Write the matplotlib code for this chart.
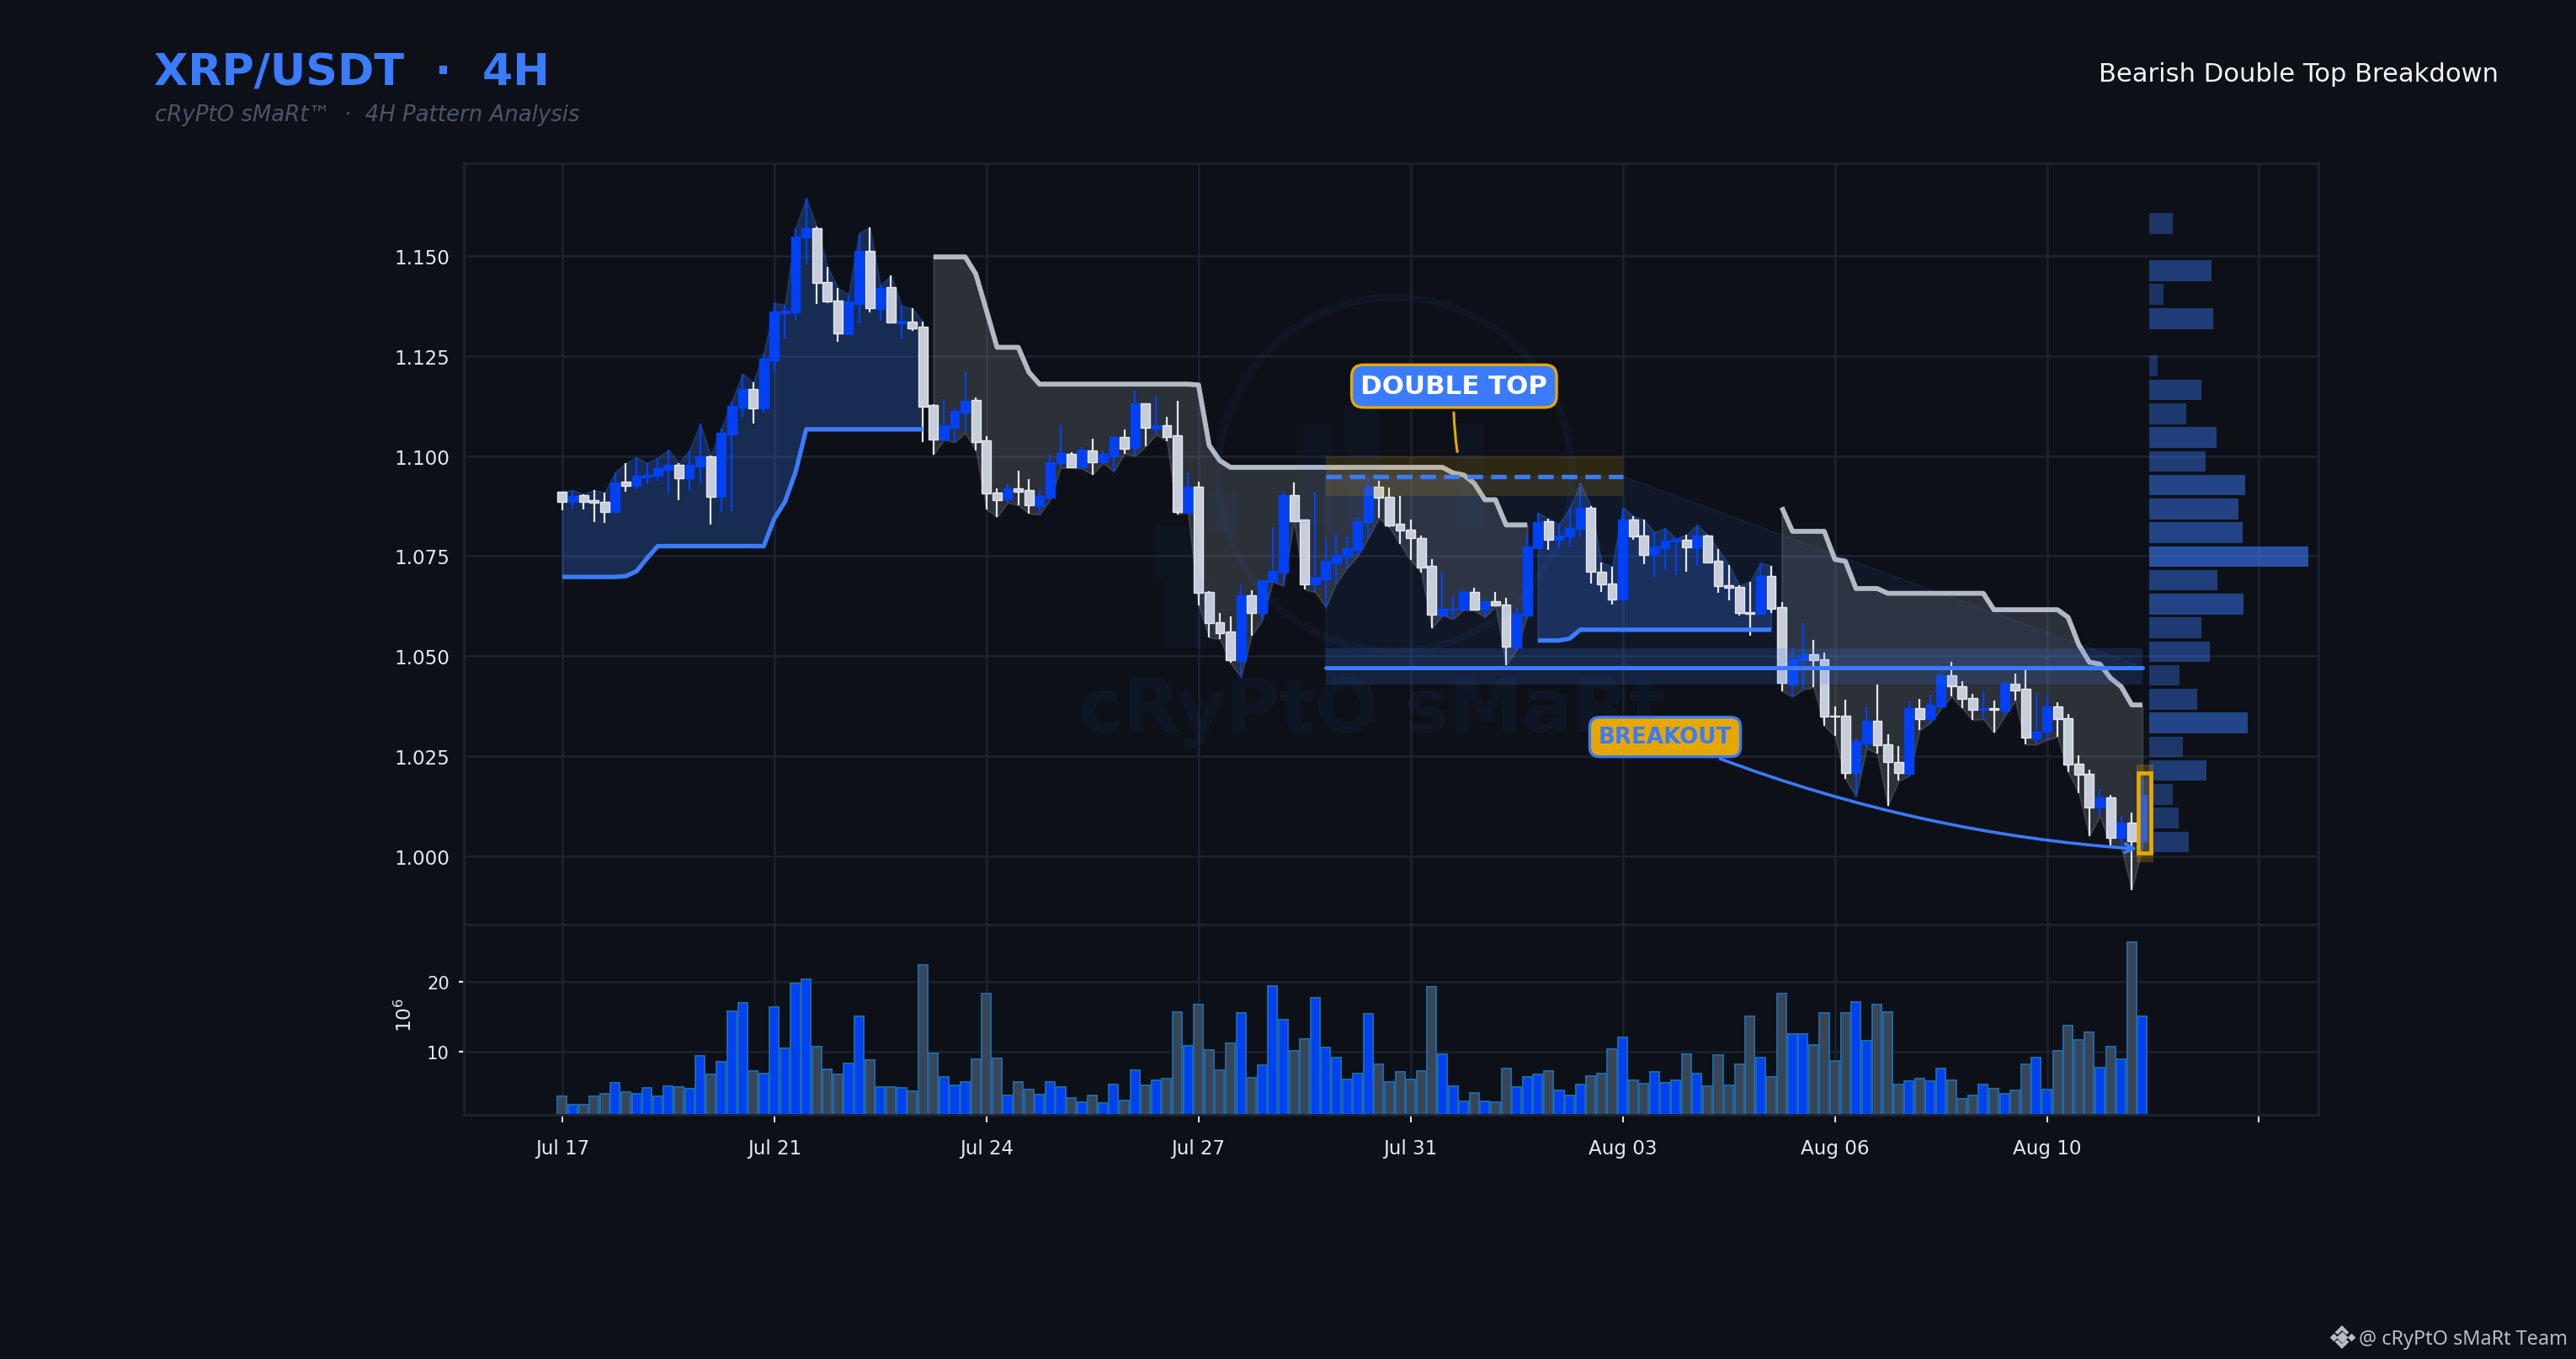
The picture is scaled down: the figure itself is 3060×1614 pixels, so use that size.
import matplotlib
matplotlib.use('Agg')
import matplotlib.pyplot as plt
import numpy as np
from matplotlib.lines import Line2D
from matplotlib.patches import Circle, Polygon, Rectangle

# candles (4H bars)
opens = [1.0912, 1.0885, 1.0903, 1.0890, 1.0886, 1.0860, 1.0936, 1.0925, 1.0947, 1.0950,
         1.0966, 1.0978, 1.0945, 1.0974, 1.1000, 1.0898, 1.1054, 1.1122, 1.1167, 1.1119,
         1.1240, 1.1358, 1.1359, 1.1546, 1.1569, 1.1436, 1.1388, 1.1304, 1.1381, 1.1513,
         1.1367, 1.1422, 1.1332, 1.1336, 1.1324, 1.1127, 1.1041, 1.1072, 1.1109, 1.1140,
         1.1039, 1.0909, 1.0891, 1.0920, 1.0915, 1.0875, 1.0896, 1.0982, 1.1006, 1.0971,
         1.1015, 1.0984, 1.0999, 1.1048, 1.1020, 1.1131, 1.1068, 1.1078, 1.1052, 1.0859,
         1.0924, 1.0661, 1.0585, 1.0561, 1.0488, 1.0652, 1.0608, 1.0686, 1.0709, 1.0903,
         1.0841, 1.0679, 1.0693, 1.0733, 1.0749, 1.0766, 1.0836, 1.0924, 1.0898, 1.0832,
         1.0816, 1.0796, 1.0726, 1.0602, 1.0616, 1.0616, 1.0661, 1.0617, 1.0638, 1.0629,
         1.0521, 1.0602, 1.0770, 1.0837, 1.0791, 1.0799, 1.0818, 1.0870, 1.0712, 1.0682,
         1.0642, 1.0841, 1.0801, 1.0754, 1.0770, 1.0786, 1.0791, 1.0770, 1.0802, 1.0739,
         1.0677, 1.0673, 1.0609, 1.0605, 1.0700, 1.0622, 1.0429, 1.0489, 1.0504, 1.0492,
         1.0352, 1.0350, 1.0207, 1.0282, 1.0338, 1.0279, 1.0235, 1.0205, 1.0371, 1.0343,
         1.0375, 1.0452, 1.0424, 1.0395, 1.0366, 1.0370, 1.0364, 1.0431, 1.0419, 1.0294,
         1.0310, 1.0375, 1.0345, 1.0231, 1.0205, 1.0121, 1.0147, 1.0046, 1.0083, 1.0037]
highs = [1.0912, 1.0915, 1.0905, 1.0915, 1.0909, 1.0960, 1.0983, 1.0997, 1.0983, 1.0995,
         1.1016, 1.0983, 1.1015, 1.1081, 1.1002, 1.1069, 1.1137, 1.1206, 1.1185, 1.1256,
         1.1383, 1.1378, 1.1569, 1.1645, 1.1574, 1.1474, 1.1420, 1.1404, 1.1558, 1.1572,
         1.1427, 1.1452, 1.1376, 1.1369, 1.1336, 1.1129, 1.1143, 1.1122, 1.1213, 1.1146,
         1.1050, 1.0919, 1.0933, 1.0963, 1.0943, 1.0915, 1.1004, 1.1078, 1.1010, 1.1022,
         1.1044, 1.1015, 1.1050, 1.1067, 1.1166, 1.1132, 1.1152, 1.1099, 1.1138, 1.0957,
         1.0936, 1.0662, 1.0608, 1.0599, 1.0678, 1.0664, 1.0690, 1.0822, 1.0910, 1.0935,
         1.0841, 1.0910, 1.0794, 1.0808, 1.0798, 1.0848, 1.0949, 1.0939, 1.0921, 1.0900,
         1.0842, 1.0802, 1.0742, 1.0710, 1.0651, 1.0667, 1.0672, 1.0638, 1.0661, 1.0645,
         1.0621, 1.0803, 1.0858, 1.0844, 1.0830, 1.0870, 1.0932, 1.0876, 1.0735, 1.0723,
         1.0872, 1.0850, 1.0841, 1.0809, 1.0820, 1.0794, 1.0803, 1.0828, 1.0803, 1.0768,
         1.0728, 1.0677, 1.0686, 1.0733, 1.0726, 1.0635, 1.0522, 1.0583, 1.0541, 1.0508,
         1.0375, 1.0391, 1.0294, 1.0375, 1.0429, 1.0305, 1.0275, 1.0387, 1.0394, 1.0403,
         1.0466, 1.0485, 1.0438, 1.0406, 1.0415, 1.0389, 1.0438, 1.0457, 1.0466, 1.0408,
         1.0401, 1.0384, 1.0356, 1.0252, 1.0217, 1.0167, 1.0154, 1.0100, 1.0110, 1.0191]
lows = [1.0865, 1.0869, 1.0867, 1.0835, 1.0834, 1.0860, 1.0911, 1.0917, 1.0929, 1.0938,
        1.0906, 1.0890, 1.0915, 1.0929, 1.0829, 1.0860, 1.0862, 1.1097, 1.1082, 1.1109,
        1.1214, 1.1294, 1.1341, 1.1480, 1.1381, 1.1383, 1.1286, 1.1304, 1.1332, 1.1359,
        1.1339, 1.1332, 1.1294, 1.1313, 1.1035, 1.1004, 1.1041, 1.1035, 1.1058, 1.1014,
        1.0867, 1.0848, 1.0884, 1.0877, 1.0857, 1.0854, 1.0891, 1.0971, 1.0971, 1.0969,
        1.0954, 1.0983, 1.0961, 1.1006, 1.1001, 1.1024, 1.1054, 1.1038, 1.0855, 1.0859,
        1.0627, 1.0547, 1.0543, 1.0483, 1.0448, 1.0552, 1.0589, 1.0686, 1.0676, 1.0838,
        1.0667, 1.0660, 1.0622, 1.0683, 1.0720, 1.0750, 1.0795, 1.0845, 1.0822, 1.0780,
        1.0740, 1.0709, 1.0570, 1.0602, 1.0593, 1.0616, 1.0614, 1.0598, 1.0624, 1.0478,
        1.0516, 1.0602, 1.0770, 1.0766, 1.0770, 1.0775, 1.0800, 1.0682, 1.0661, 1.0628,
        1.0642, 1.0791, 1.0731, 1.0699, 1.0716, 1.0702, 1.0710, 1.0726, 1.0733, 1.0659,
        1.0640, 1.0602, 1.0551, 1.0605, 1.0607, 1.0413, 1.0399, 1.0417, 1.0422, 1.0326,
        1.0301, 1.0193, 1.0149, 1.0270, 1.0256, 1.0126, 1.0188, 1.0201, 1.0315, 1.0333,
        1.0368, 1.0399, 1.0370, 1.0340, 1.0343, 1.0308, 1.0349, 1.0389, 1.0279, 1.0279,
        1.0291, 1.0298, 1.0210, 1.0158, 1.0051, 1.0100, 1.0025, 1.0021, 0.9916, 1.0021]
closes = [1.0886, 1.0900, 1.0886, 1.0884, 1.0860, 1.0934, 1.0926, 1.0951, 1.0953, 1.0969,
          1.0978, 1.0945, 1.0978, 1.1000, 1.0898, 1.1058, 1.1125, 1.1167, 1.1120, 1.1243,
          1.1362, 1.1364, 1.1548, 1.1569, 1.1432, 1.1387, 1.1306, 1.1387, 1.1513, 1.1369,
          1.1420, 1.1334, 1.1339, 1.1320, 1.1124, 1.1042, 1.1077, 1.1113, 1.1138, 1.1036,
          1.0907, 1.0890, 1.0920, 1.0910, 1.0877, 1.0901, 1.0985, 1.1008, 1.0973, 1.1017,
          1.0985, 1.1006, 1.1048, 1.1019, 1.1131, 1.1070, 1.1078, 1.1048, 1.0861, 1.0924,
          1.0658, 1.0582, 1.0557, 1.0490, 1.0652, 1.0608, 1.0690, 1.0714, 1.0903, 1.0838,
          1.0680, 1.0696, 1.0738, 1.0754, 1.0770, 1.0838, 1.0923, 1.0896, 1.0827, 1.0814,
          1.0795, 1.0721, 1.0603, 1.0619, 1.0619, 1.0661, 1.0617, 1.0638, 1.0626, 1.0523,
          1.0605, 1.0775, 1.0836, 1.0791, 1.0802, 1.0821, 1.0870, 1.0710, 1.0679, 1.0642,
          1.0841, 1.0799, 1.0754, 1.0775, 1.0789, 1.0794, 1.0772, 1.0802, 1.0735, 1.0675,
          1.0670, 1.0607, 1.0605, 1.0700, 1.0619, 1.0433, 1.0492, 1.0504, 1.0489, 1.0348,
          1.0348, 1.0207, 1.0287, 1.0338, 1.0277, 1.0235, 1.0207, 1.0371, 1.0343, 1.0378,
          1.0452, 1.0424, 1.0394, 1.0366, 1.0371, 1.0366, 1.0431, 1.0415, 1.0296, 1.0312,
          1.0375, 1.0342, 1.0228, 1.0203, 1.0121, 1.0147, 1.0046, 1.0083, 1.0037, 1.0154]

volumes = [3.60, 2.39, 2.39, 3.68, 3.96, 5.53, 4.21, 3.96, 4.81, 3.68,
           5.05, 4.93, 4.69, 9.40, 6.74, 8.55, 15.79, 17.00, 7.22, 6.86,
           16.40, 10.48, 19.66, 20.26, 10.72, 7.46, 6.74, 8.31, 15.07, 8.79,
           4.93, 4.93, 4.81, 4.33, 22.31, 9.76, 6.38, 5.17, 5.65, 8.91,
           18.21, 9.03, 3.72, 5.65, 4.57, 3.84, 5.65, 4.93, 3.36, 2.76,
           3.72, 2.64, 5.29, 3.00, 7.34, 5.17, 5.90, 6.14, 15.67, 10.85,
           16.76, 10.24, 7.34, 11.21, 15.55, 6.26, 8.07, 19.30, 14.59, 10.12,
           11.81, 17.61, 10.60, 9.15, 6.02, 6.86, 15.43, 8.19, 5.65, 7.10,
           6.02, 7.22, 19.17, 9.64, 5.05, 2.88, 4.08, 2.88, 2.76, 7.59,
           4.93, 6.38, 6.74, 7.22, 4.45, 3.72, 5.29, 6.50, 6.86, 10.36,
           12.05, 5.90, 5.41, 7.10, 5.53, 5.90, 9.64, 6.86, 5.05, 9.52,
           5.17, 8.19, 15.07, 9.15, 6.38, 18.21, 12.54, 12.54, 10.97, 15.55,
           8.67, 15.55, 17.12, 11.57, 16.76, 15.67, 5.29, 5.77, 6.14, 5.77,
           7.59, 5.90, 3.24, 3.72, 5.29, 4.69, 3.96, 4.45, 8.19, 9.15,
           4.57, 10.12, 13.74, 11.69, 12.78, 7.71, 10.72, 8.91, 25.57, 15.07]

# trend band, four legs
band_up_1 = [1.0698, 1.0698, 1.0698, 1.0698, 1.0698, 1.0698, 1.0700, 1.0712, 1.0745, 1.0775,
             1.0775, 1.0775, 1.0775, 1.0775, 1.0775, 1.0775, 1.0775, 1.0775, 1.0775, 1.0775,
             1.0844, 1.0886, 1.0960, 1.1067, 1.1067, 1.1067, 1.1067, 1.1067, 1.1067, 1.1067,
             1.1067, 1.1067, 1.1067, 1.1067, 1.1067]
band_down_1 = [1.1498, 1.1498, 1.1498, 1.1498, 1.1455, 1.1364, 1.1272, 1.1272, 1.1272, 1.1210,
               1.1180, 1.1180, 1.1180, 1.1180, 1.1180, 1.1180, 1.1180, 1.1180, 1.1180, 1.1180,
               1.1180, 1.1180, 1.1180, 1.1180, 1.1180, 1.1178, 1.1027, 1.0989, 1.0972, 1.0972,
               1.0972, 1.0972, 1.0972, 1.0972, 1.0972, 1.0972, 1.0972, 1.0972, 1.0972, 1.0972,
               1.0972, 1.0972, 1.0972, 1.0972, 1.0972, 1.0972, 1.0972, 1.0972, 1.0972, 1.0958,
               1.0953, 1.0932, 1.0891, 1.0891, 1.0828, 1.0828, 1.0828]
band_up_2 = [1.0539, 1.0539, 1.0539, 1.0544, 1.0566, 1.0566, 1.0566, 1.0566, 1.0566, 1.0566,
             1.0566, 1.0566, 1.0566, 1.0566, 1.0566, 1.0566, 1.0566, 1.0566, 1.0566, 1.0566,
             1.0566, 1.0566, 1.0566]
band_down_2 = [1.0872, 1.0812, 1.0812, 1.0812, 1.0812, 1.0742, 1.0737, 1.0669, 1.0669, 1.0669,
               1.0657, 1.0657, 1.0657, 1.0657, 1.0657, 1.0657, 1.0657, 1.0657, 1.0657, 1.0657,
               1.0616, 1.0616, 1.0616, 1.0616, 1.0616, 1.0616, 1.0616, 1.0597, 1.0529, 1.0485,
               1.0480, 1.0445, 1.0424, 1.0378, 1.0378]

# volume by price, right hand side
profile_prices = [1.1582, 1.1523, 1.1463, 1.1404, 1.1344, 1.1285, 1.1225, 1.1166, 1.1106,
                  1.1047, 1.0987, 1.0928, 1.0868, 1.0809, 1.0749, 1.0690, 1.0630, 1.0571,
                  1.0511, 1.0452, 1.0392, 1.0333, 1.0273, 1.0214, 1.0154, 1.0095, 1.0035]
profile_volumes = [28, 0, 74, 17, 76, 0, 10, 62, 44, 80, 67, 114, 106, 111, 189, 81, 112,
                   62, 72, 36, 57, 117, 40, 68, 28, 35, 47]

tick_positions = [0, 20, 40, 60, 80, 100, 120, 140, 160]
tick_labels = ['Jul 17', 'Jul 21', 'Jul 24', 'Jul 27', 'Jul 31', 'Aug 03', 'Aug 06', 'Aug 10', '']

# pattern levels
neckline_top = 1.0949
neckline_low = 1.0472
top_zone = (1.0900, 1.1000)
low_zone = (1.0428, 1.0519)

BG = '#0d1117'
GRID = '#1c222e'
BLUE = '#3b7bff'
CANDLE_UP = '#0041f5'
CANDLE_DOWN = '#c8cdda'
CANDLE_DOWN_EDGE = '#e6e8ef'
GOLD = '#e6a800'
BAND_GRAY = '#b4b9c6'

W, H = 3060, 1615
DPI = 200

opens = np.array(opens)
closes = np.array(closes)
highs = np.array(highs)
lows = np.array(lows)
volumes = np.array(volumes)
idx = np.arange(len(opens))
up = closes >= opens

fig = plt.figure(figsize=(W / DPI, H / DPI), dpi=DPI, facecolor=BG)
ax = fig.add_axes([551 / W, 1 - 1099 / H, (2754 - 551) / W, (1099 - 194.5) / H], facecolor=BG)
ax_vol = fig.add_axes([551 / W, 1 - 1325 / H, (2754 - 551) / W, (1325 - 1099) / H], facecolor=BG, sharex=ax)


def to_axes(x, y):
    # pixel of the picture to figure fraction
    return x / W, 1 - y / H


for a in (ax, ax_vol):
    a.grid(True, color=GRID, linewidth=0.9)
    a.set_axisbelow(True)
    for s in a.spines.values():
        s.set_color(GRID)
        s.set_linewidth(1.0)

# fill between trend band and candle extremes
legs = [(0, band_up_1, True), (35, band_down_1, False), (92, band_up_2, True), (115, band_down_2, False)]
for start, band, rising in legs:
    band = np.array(band)
    xs = idx[start:start + len(band)]
    if rising:
        ax.fill_between(xs, band, highs[xs], facecolor=BLUE + '40', edgecolor=BLUE + '40', linewidth=0.7, zorder=1.5)
        ax.plot(xs, band, color=BLUE, linewidth=1.9, zorder=4, solid_capstyle='butt')
    else:
        ax.fill_between(xs, band, lows[xs], facecolor=CANDLE_DOWN + '2b', edgecolor=CANDLE_DOWN + '2b', linewidth=0.7, zorder=1.5)
        ax.plot(xs, band, color=BAND_GRAY, linewidth=2.1, zorder=4, solid_capstyle='butt')

# pattern wedge and zones
ax.add_patch(Polygon([(72, neckline_top), (100, neckline_top), (149, neckline_low), (72, neckline_low)],
                     closed=True, facecolor=BLUE + '12', edgecolor=BLUE + '22', linewidth=0.5, zorder=1.8))
ax.add_patch(Rectangle((72, top_zone[0]), 28, top_zone[1] - top_zone[0], facecolor=GOLD + '26', edgecolor='none', zorder=4.5))
ax.add_patch(Rectangle((72, low_zone[0]), 77, low_zone[1] - low_zone[0], facecolor=BLUE + '2a', edgecolor='none', zorder=4.5))

# candles
ax.vlines(idx[up], lows[up], highs[up], color=CANDLE_UP, linewidth=0.8, zorder=3)
ax.vlines(idx[~up], lows[~up], highs[~up], color=CANDLE_DOWN_EDGE, linewidth=0.8, zorder=3)
ax.bar(idx[up], (closes - opens)[up], bottom=opens[up], width=0.86, color=CANDLE_UP, edgecolor=CANDLE_UP, linewidth=0.5, zorder=3.2)
ax.bar(idx[~up], (opens - closes)[~up], bottom=closes[~up], width=0.86, color=CANDLE_DOWN, edgecolor=CANDLE_DOWN_EDGE, linewidth=0.5, zorder=3.2)

# levels
ax.plot([72, 100], [neckline_top, neckline_top], color=BLUE, linewidth=1.9, dashes=(3.5, 1.8), zorder=5)
ax.plot([72, 149], [neckline_low, neckline_low], color=BLUE, linewidth=1.8, solid_capstyle='round', zorder=5)

# volume profile
profile_rel = np.array(profile_volumes) / max(profile_volumes)
for price, rel in zip(profile_prices, profile_rel):
    if rel > 0:
        ax.barh(price, rel * 15, left=149.65, height=0.0052, color=BLUE, alpha=0.3 + 0.3 * rel, linewidth=0, zorder=2.5)

# last candle highlight
ax.add_patch(Rectangle((148.45, 0.9985), 1.6, 1.0228 - 0.9985, facecolor=GOLD + '40', edgecolor='none', zorder=6))
ax.add_patch(Rectangle((148.65, 1.0008), 1.15, 1.0207 - 1.0008, facecolor=BLUE + '40', edgecolor=GOLD, linewidth=1.7, zorder=6.2))

# annotations
ax.annotate('DOUBLE TOP', xy=(84.4, 1.1011), xytext=(84.1, 1.1175), color='white', fontsize=11.1, fontweight='bold',
            ha='center', va='center', zorder=8,
            bbox=dict(boxstyle='round,pad=0.35,rounding_size=0.45', facecolor=BLUE, edgecolor=GOLD, linewidth=1.2),
            arrowprops=dict(arrowstyle='-', color=GOLD, linewidth=1.1, connectionstyle='arc3,rad=0.05', shrinkB=0))
ax.annotate('BREAKOUT', xy=(148.5, 1.0018), xytext=(104, 1.0298), color=BLUE, fontsize=9.4, fontweight='bold',
            ha='center', va='center', zorder=8,
            bbox=dict(boxstyle='round,pad=0.4,rounding_size=0.45', facecolor=GOLD, edgecolor=BLUE, linewidth=1.2),
            arrowprops=dict(arrowstyle='->', color=BLUE, linewidth=1.3, connectionstyle='arc3,rad=0.083', shrinkB=0))

# watermark, sits over the marks at very low alpha
wm = BLUE + '0a'
ax.add_patch(Circle((1657, H - 564), 210, transform=None, facecolor='none', edgecolor=BLUE + '0e', linewidth=3, zorder=7))
for x0, y0, x1, y1 in [(1372, 626, 1423, 688), (1434, 586, 1470, 633), (1541, 504, 1582, 626),
                       (1597, 483, 1638, 625), (1730, 504, 1762, 628), (1385, 688, 1445, 770)]:
    ax.add_patch(Rectangle((x0, H - y1), x1 - x0, y1 - y0, transform=None, facecolor=wm, edgecolor='none', zorder=7))
tx, ty = to_axes(1630, 846)
ax.text(tx, ty, 'cRyPtO sMaRt', transform=fig.transFigure, color=BLUE, alpha=0.055, fontsize=31.8, fontweight='bold',
        ha='center', va='center', zorder=7)

ax.set_xlim(-9.28, 165.6)
ax.set_ylim(0.9829, 1.1733)
ax.set_yticks([1.000, 1.025, 1.050, 1.075, 1.100, 1.125, 1.150])
ax.set_yticklabels(['1.000', '1.025', '1.050', '1.075', '1.100', '1.125', '1.150'])
ax.tick_params(axis='y', colors='#e6e8ef', labelsize=8.3, length=0, pad=6)
ax.tick_params(axis='x', length=0, labelbottom=False)

# volume bars
ax_vol.bar(idx[up], volumes[up] * 1e6, width=0.88, color=CANDLE_UP, edgecolor='#1d6aa8', linewidth=0.7)
ax_vol.bar(idx[~up], volumes[~up] * 1e6, width=0.88, color='#3a4556', edgecolor='#1d6aa8', linewidth=0.7)
ax_vol.set_ylim(1.0e6, 28.1e6)
ax_vol.set_yticks([10e6, 20e6])
ax_vol.set_yticklabels(['10', '20'])
ax_vol.tick_params(axis='y', colors='#e6e8ef', labelsize=7.6, length=2.2, width=0.8, pad=4)
ax_vol.set_xticks(tick_positions)
ax_vol.set_xticklabels(tick_labels)
ax_vol.tick_params(axis='x', colors='#e6e8ef', labelsize=8.3, length=3.2, width=0.7, pad=7)
ox, oy = to_axes(481, 1205)
fig.text(ox, oy, r'$\mathdefault{10^{6}}$', color='#e6e8ef', fontsize=8.4, rotation=90, ha='center', va='center')

# headings
px, py = to_axes(183, 102)
fig.text(px, py, 'XRP/USDT  ·  4H', color=BLUE, fontsize=18.8, fontweight='bold', ha='left', va='baseline')
px, py = to_axes(184, 144)
fig.text(px, py, 'cRyPtO sMaRt™  ·  4H Pattern Analysis', color='#4a5568', fontsize=9.37, style='italic', ha='left', va='baseline')
px, py = to_axes(2968, 97)
fig.text(px, py, 'Bearish Double Top Breakdown', color='#f2f4f8', fontsize=11.05, ha='right', va='baseline')

# footer
px, py = to_axes(2802, 1597)
fig.text(px, py, '@ cRyPtO sMaRt Team', color='#b8bcc4', fontsize=8.45, family='Noto Sans', ha='left', va='baseline')
lx, ly = 2782, 1589
for dx, dy, ms in [(0, 0, 3.4), (-10.5, 0, 2.0), (10.5, 0, 2.0)]:
    fx, fy = to_axes(lx + dx, ly + dy)
    fig.add_artist(Line2D([fx], [fy], marker='D', markersize=ms * 0.72, color='#b8bcc4', linestyle='none', transform=fig.transFigure))
for sign in (1, -1):
    pts = [(-8.5, 5.5), (0, 14), (8.5, 5.5), (5, 3), (0, 8), (-5, 3)]
    pts = [to_axes(lx + p[0], ly - sign * p[1]) for p in pts]
    fig.add_artist(Polygon(pts, closed=True, facecolor='#b8bcc4', edgecolor='none', transform=fig.transFigure))

fig.savefig('out.png', dpi=DPI, facecolor=BG)
